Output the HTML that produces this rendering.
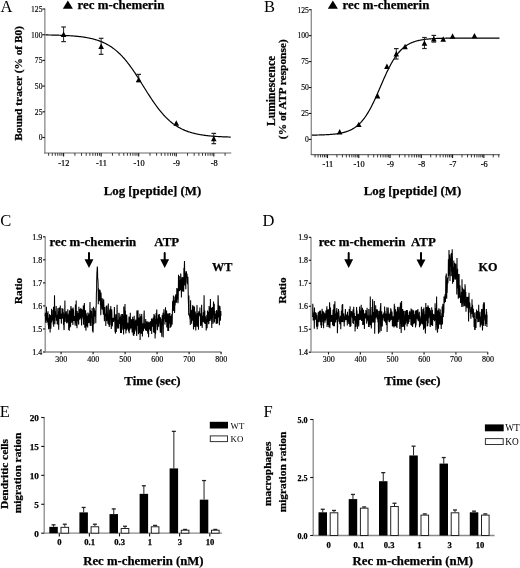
<!DOCTYPE html>
<html><head><meta charset="utf-8"><title>Figure</title>
<style>
html,body{margin:0;padding:0;background:#fff;}
body{width:520px;height:568px;overflow:hidden;}
svg{display:block;font-family:'Liberation Serif', 'Times New Roman', serif;}
</style></head><body>
<svg width="520" height="568" viewBox="0 0 520 568">
<rect width="520" height="568" fill="#fff"/>
<text x="0.60" y="12.20" font-size="16.5" font-weight="normal" text-anchor="start" fill="#000">A</text>
<text x="264.00" y="12.20" font-size="16.5" font-weight="normal" text-anchor="start" fill="#000">B</text>
<text x="0.20" y="226.00" font-size="16.5" font-weight="normal" text-anchor="start" fill="#000">C</text>
<text x="262.60" y="225.80" font-size="16.5" font-weight="normal" text-anchor="start" fill="#000">D</text>
<text x="-0.20" y="416.80" font-size="16.5" font-weight="normal" text-anchor="start" fill="#000">E</text>
<text x="263.40" y="416.80" font-size="16.5" font-weight="normal" text-anchor="start" fill="#000">F</text>
<line x1="44.85" y1="8.60" x2="44.85" y2="153.60" stroke="#8a8a8a" stroke-width="1.3"/>
<line x1="42.45" y1="137.50" x2="44.85" y2="137.50" stroke="#111" stroke-width="1.1"/>
<text x="42.45" y="140.30" font-size="7.6" font-weight="normal" text-anchor="end" fill="#000" stroke="#000" stroke-width="0.15">0</text>
<line x1="42.45" y1="111.80" x2="44.85" y2="111.80" stroke="#111" stroke-width="1.1"/>
<text x="42.45" y="114.60" font-size="7.6" font-weight="normal" text-anchor="end" fill="#000" stroke="#000" stroke-width="0.15">25</text>
<line x1="42.45" y1="86.10" x2="44.85" y2="86.10" stroke="#111" stroke-width="1.1"/>
<text x="42.45" y="88.90" font-size="7.6" font-weight="normal" text-anchor="end" fill="#000" stroke="#000" stroke-width="0.15">50</text>
<line x1="42.45" y1="60.40" x2="44.85" y2="60.40" stroke="#111" stroke-width="1.1"/>
<text x="42.45" y="63.20" font-size="7.6" font-weight="normal" text-anchor="end" fill="#000" stroke="#000" stroke-width="0.15">75</text>
<line x1="42.45" y1="34.70" x2="44.85" y2="34.70" stroke="#111" stroke-width="1.1"/>
<text x="42.45" y="37.50" font-size="7.6" font-weight="normal" text-anchor="end" fill="#000" stroke="#000" stroke-width="0.15">100</text>
<line x1="42.45" y1="9.00" x2="44.85" y2="9.00" stroke="#111" stroke-width="1.1"/>
<text x="42.45" y="11.80" font-size="7.6" font-weight="normal" text-anchor="end" fill="#000" stroke="#000" stroke-width="0.15">125</text>
<line x1="44.20" y1="153.00" x2="231.30" y2="153.00" stroke="#6a6a6a" stroke-width="1.2"/>
<line x1="48.66" y1="153.00" x2="48.66" y2="155.80" stroke="#222" stroke-width="0.9"/>
<line x1="52.30" y1="153.00" x2="52.30" y2="155.80" stroke="#222" stroke-width="0.9"/>
<line x1="55.27" y1="153.00" x2="55.27" y2="155.80" stroke="#222" stroke-width="0.9"/>
<line x1="57.78" y1="153.00" x2="57.78" y2="155.80" stroke="#222" stroke-width="0.9"/>
<line x1="59.96" y1="153.00" x2="59.96" y2="155.80" stroke="#222" stroke-width="0.9"/>
<line x1="61.88" y1="153.00" x2="61.88" y2="155.80" stroke="#222" stroke-width="0.9"/>
<line x1="63.60" y1="153.00" x2="63.60" y2="156.40" stroke="#111" stroke-width="1.1"/>
<line x1="74.90" y1="153.00" x2="74.90" y2="155.80" stroke="#222" stroke-width="0.9"/>
<line x1="81.52" y1="153.00" x2="81.52" y2="155.80" stroke="#222" stroke-width="0.9"/>
<line x1="86.21" y1="153.00" x2="86.21" y2="155.80" stroke="#222" stroke-width="0.9"/>
<line x1="89.85" y1="153.00" x2="89.85" y2="155.80" stroke="#222" stroke-width="0.9"/>
<line x1="92.82" y1="153.00" x2="92.82" y2="155.80" stroke="#222" stroke-width="0.9"/>
<line x1="95.33" y1="153.00" x2="95.33" y2="155.80" stroke="#222" stroke-width="0.9"/>
<line x1="97.51" y1="153.00" x2="97.51" y2="155.80" stroke="#222" stroke-width="0.9"/>
<line x1="99.43" y1="153.00" x2="99.43" y2="155.80" stroke="#222" stroke-width="0.9"/>
<line x1="101.15" y1="153.00" x2="101.15" y2="156.40" stroke="#111" stroke-width="1.1"/>
<line x1="112.45" y1="153.00" x2="112.45" y2="155.80" stroke="#222" stroke-width="0.9"/>
<line x1="119.07" y1="153.00" x2="119.07" y2="155.80" stroke="#222" stroke-width="0.9"/>
<line x1="123.76" y1="153.00" x2="123.76" y2="155.80" stroke="#222" stroke-width="0.9"/>
<line x1="127.40" y1="153.00" x2="127.40" y2="155.80" stroke="#222" stroke-width="0.9"/>
<line x1="130.37" y1="153.00" x2="130.37" y2="155.80" stroke="#222" stroke-width="0.9"/>
<line x1="132.88" y1="153.00" x2="132.88" y2="155.80" stroke="#222" stroke-width="0.9"/>
<line x1="135.06" y1="153.00" x2="135.06" y2="155.80" stroke="#222" stroke-width="0.9"/>
<line x1="136.98" y1="153.00" x2="136.98" y2="155.80" stroke="#222" stroke-width="0.9"/>
<line x1="138.70" y1="153.00" x2="138.70" y2="156.40" stroke="#111" stroke-width="1.1"/>
<line x1="150.00" y1="153.00" x2="150.00" y2="155.80" stroke="#222" stroke-width="0.9"/>
<line x1="156.62" y1="153.00" x2="156.62" y2="155.80" stroke="#222" stroke-width="0.9"/>
<line x1="161.31" y1="153.00" x2="161.31" y2="155.80" stroke="#222" stroke-width="0.9"/>
<line x1="164.95" y1="153.00" x2="164.95" y2="155.80" stroke="#222" stroke-width="0.9"/>
<line x1="167.92" y1="153.00" x2="167.92" y2="155.80" stroke="#222" stroke-width="0.9"/>
<line x1="170.43" y1="153.00" x2="170.43" y2="155.80" stroke="#222" stroke-width="0.9"/>
<line x1="172.61" y1="153.00" x2="172.61" y2="155.80" stroke="#222" stroke-width="0.9"/>
<line x1="174.53" y1="153.00" x2="174.53" y2="155.80" stroke="#222" stroke-width="0.9"/>
<line x1="176.25" y1="153.00" x2="176.25" y2="156.40" stroke="#111" stroke-width="1.1"/>
<line x1="187.55" y1="153.00" x2="187.55" y2="155.80" stroke="#222" stroke-width="0.9"/>
<line x1="194.17" y1="153.00" x2="194.17" y2="155.80" stroke="#222" stroke-width="0.9"/>
<line x1="198.86" y1="153.00" x2="198.86" y2="155.80" stroke="#222" stroke-width="0.9"/>
<line x1="202.50" y1="153.00" x2="202.50" y2="155.80" stroke="#222" stroke-width="0.9"/>
<line x1="205.47" y1="153.00" x2="205.47" y2="155.80" stroke="#222" stroke-width="0.9"/>
<line x1="207.98" y1="153.00" x2="207.98" y2="155.80" stroke="#222" stroke-width="0.9"/>
<line x1="210.16" y1="153.00" x2="210.16" y2="155.80" stroke="#222" stroke-width="0.9"/>
<line x1="212.08" y1="153.00" x2="212.08" y2="155.80" stroke="#222" stroke-width="0.9"/>
<line x1="213.80" y1="153.00" x2="213.80" y2="156.40" stroke="#111" stroke-width="1.1"/>
<line x1="225.10" y1="153.00" x2="225.10" y2="155.80" stroke="#222" stroke-width="0.9"/>
<text x="63.90" y="165.70" font-size="8.3" font-weight="normal" text-anchor="middle" fill="#000" stroke="#000" stroke-width="0.22">-12</text>
<text x="101.45" y="165.70" font-size="8.3" font-weight="normal" text-anchor="middle" fill="#000" stroke="#000" stroke-width="0.22">-11</text>
<text x="139.00" y="165.70" font-size="8.3" font-weight="normal" text-anchor="middle" fill="#000" stroke="#000" stroke-width="0.22">-10</text>
<text x="176.55" y="165.70" font-size="8.3" font-weight="normal" text-anchor="middle" fill="#000" stroke="#000" stroke-width="0.22">-9</text>
<text x="214.10" y="165.70" font-size="8.3" font-weight="normal" text-anchor="middle" fill="#000" stroke="#000" stroke-width="0.22">-8</text>
<polyline points="45.45,34.93 46.08,34.94 46.70,34.94 47.33,34.95 47.95,34.96 48.58,34.98 49.21,34.99 49.83,35.00 50.46,35.01 51.08,35.02 51.71,35.03 52.33,35.05 52.96,35.06 53.59,35.08 54.21,35.09 54.84,35.11 55.46,35.12 56.09,35.14 56.72,35.16 57.34,35.18 57.97,35.19 58.59,35.21 59.22,35.23 59.85,35.26 60.47,35.28 61.10,35.30 61.72,35.32 62.35,35.35 62.97,35.37 63.60,35.40 64.23,35.43 64.85,35.46 65.48,35.49 66.10,35.52 66.73,35.55 67.35,35.58 67.98,35.62 68.61,35.66 69.23,35.69 69.86,35.73 70.48,35.77 71.11,35.82 71.74,35.86 72.36,35.91 72.99,35.95 73.61,36.00 74.24,36.05 74.87,36.11 75.49,36.16 76.12,36.22 76.74,36.28 77.37,36.34 77.99,36.41 78.62,36.47 79.25,36.54 79.87,36.61 80.50,36.69 81.12,36.77 81.75,36.85 82.38,36.93 83.00,37.02 83.63,37.11 84.25,37.20 84.88,37.30 85.50,37.40 86.13,37.51 86.76,37.61 87.38,37.73 88.01,37.84 88.63,37.97 89.26,38.09 89.88,38.22 90.51,38.36 91.14,38.50 91.76,38.64 92.39,38.79 93.01,38.95 93.64,39.11 94.27,39.28 94.89,39.46 95.52,39.64 96.14,39.82 96.77,40.02 97.40,40.22 98.02,40.43 98.65,40.64 99.27,40.86 99.90,41.09 100.52,41.33 101.15,41.58 101.78,41.84 102.40,42.10 103.03,42.37 103.65,42.65 104.28,42.95 104.90,43.25 105.53,43.56 106.16,43.88 106.78,44.21 107.41,44.56 108.03,44.91 108.66,45.28 109.29,45.65 109.91,46.04 110.54,46.44 111.16,46.85 111.79,47.28 112.42,47.72 113.04,48.17 113.67,48.63 114.29,49.11 114.92,49.60 115.54,50.11 116.17,50.63 116.80,51.16 117.42,51.71 118.05,52.27 118.67,52.85 119.30,53.44 119.92,54.05 120.55,54.67 121.18,55.31 121.80,55.96 122.43,56.62 123.05,57.31 123.68,58.00 124.31,58.72 124.93,59.44 125.56,60.18 126.18,60.94 126.81,61.71 127.43,62.50 128.06,63.30 128.69,64.11 129.31,64.94 129.94,65.78 130.56,66.64 131.19,67.50 131.82,68.38 132.44,69.28 133.07,70.18 133.69,71.09 134.32,72.02 134.95,72.95 135.57,73.90 136.20,74.85 136.82,75.81 137.45,76.78 138.07,77.75 138.70,78.73 139.33,79.72 139.95,80.71 140.58,81.71 141.20,82.71 141.83,83.71 142.45,84.71 143.08,85.72 143.71,86.72 144.33,87.73 144.96,88.73 145.58,89.73 146.21,90.73 146.84,91.73 147.46,92.72 148.09,93.70 148.71,94.68 149.34,95.66 149.97,96.62 150.59,97.58 151.22,98.53 151.84,99.47 152.47,100.41 153.09,101.33 153.72,102.24 154.35,103.14 154.97,104.03 155.60,104.90 156.22,105.77 156.85,106.62 157.47,107.46 158.10,108.28 158.73,109.09 159.35,109.89 159.98,110.67 160.60,111.44 161.23,112.19 161.86,112.93 162.48,113.66 163.11,114.37 163.73,115.06 164.36,115.74 164.98,116.40 165.61,117.05 166.24,117.68 166.86,118.30 167.49,118.90 168.11,119.49 168.74,120.07 169.37,120.62 169.99,121.17 170.62,121.70 171.24,122.21 171.87,122.72 172.50,123.20 173.12,123.68 173.75,124.14 174.37,124.59 175.00,125.02 175.62,125.45 176.25,125.86 176.88,126.25 177.50,126.64 178.13,127.01 178.75,127.38 179.38,127.73 180.00,128.07 180.63,128.40 181.26,128.72 181.88,129.03 182.51,129.32 183.13,129.61 183.76,129.89 184.39,130.17 185.01,130.43 185.64,130.68 186.26,130.93 186.89,131.16 187.52,131.39 188.14,131.61 188.77,131.82 189.39,132.03 190.02,132.23 190.64,132.42 191.27,132.61 191.90,132.79 192.52,132.96 193.15,133.13 193.77,133.29 194.40,133.44 195.02,133.59 195.65,133.74 196.28,133.88 196.90,134.01 197.53,134.14 198.15,134.26 198.78,134.38 199.41,134.50 200.03,134.61 200.66,134.72 201.28,134.82 201.91,134.92 202.53,135.02 203.16,135.11 203.79,135.20 204.41,135.29 205.04,135.37 205.66,135.45 206.29,135.53 206.92,135.60 207.54,135.67 208.17,135.74 208.79,135.81 209.42,135.87 210.04,135.93 210.67,135.99 211.30,136.05 211.92,136.11 212.55,136.16 213.17,136.21 213.80,136.26 214.43,136.31 215.05,136.35 215.68,136.39 216.30,136.44 216.93,136.48 217.55,136.52 218.18,136.55 218.81,136.59 219.43,136.62 220.06,136.66 220.68,136.69 221.31,136.72 221.94,136.75 222.56,136.78 223.19,136.81 223.81,136.83 224.44,136.86 225.06,136.88 225.69,136.91 226.32,136.93 226.94,136.95 227.57,136.97 228.19,136.99 228.82,137.01 229.45,137.03 230.07,137.05 230.70,137.06" fill="none" stroke="#000" stroke-width="1.2"/>
<line x1="63.60" y1="26.99" x2="63.60" y2="41.59" stroke="#222" stroke-width="1.0"/>
<line x1="61.30" y1="26.99" x2="65.90" y2="26.99" stroke="#222" stroke-width="1.2"/>
<line x1="61.30" y1="41.59" x2="65.90" y2="41.59" stroke="#222" stroke-width="1.2"/>
<polygon points="60.80,36.99 66.40,36.99 63.60,31.59" fill="#000"/>
<line x1="101.15" y1="38.30" x2="101.15" y2="54.33" stroke="#222" stroke-width="1.0"/>
<line x1="98.85" y1="38.30" x2="103.45" y2="38.30" stroke="#222" stroke-width="1.2"/>
<line x1="98.85" y1="54.33" x2="103.45" y2="54.33" stroke="#222" stroke-width="1.2"/>
<polygon points="98.35,49.02 103.95,49.02 101.15,43.62" fill="#000"/>
<line x1="138.70" y1="74.38" x2="138.70" y2="81.58" stroke="#222" stroke-width="1.0"/>
<line x1="136.40" y1="74.38" x2="141.00" y2="74.38" stroke="#222" stroke-width="1.2"/>
<line x1="136.40" y1="81.58" x2="141.00" y2="81.58" stroke="#222" stroke-width="1.2"/>
<polygon points="135.90,82.22 141.50,82.22 138.70,76.82" fill="#000"/>
<polygon points="173.45,125.71 179.05,125.71 176.25,120.31" fill="#000"/>
<line x1="213.80" y1="133.39" x2="213.80" y2="143.67" stroke="#222" stroke-width="1.0"/>
<line x1="211.50" y1="133.39" x2="216.10" y2="133.39" stroke="#222" stroke-width="1.2"/>
<line x1="211.50" y1="143.67" x2="216.10" y2="143.67" stroke="#222" stroke-width="1.2"/>
<polygon points="211.00,141.23 216.60,141.23 213.80,135.83" fill="#000"/>
<polygon points="62.8,8.8 72.9,8.8 67.85,0.6" fill="#000"/>
<text x="77.60" y="8.90" font-size="12.9" font-weight="bold" text-anchor="start" fill="#000" stroke="#000" stroke-width="0.25">rec m-chemerin</text>
<text x="22.00" y="83.40" font-size="11.4" font-weight="bold" text-anchor="middle" fill="#000" transform="rotate(-90 22.00 83.40)" stroke="#000" stroke-width="0.25">Bound tracer (% of B0)</text>
<text x="152.50" y="194.60" font-size="12.8" font-weight="bold" text-anchor="middle" fill="#000" stroke="#000" stroke-width="0.25">Log [peptide] (M)</text>
<line x1="311.30" y1="9.30" x2="311.30" y2="155.00" stroke="#8a8a8a" stroke-width="1.3"/>
<line x1="308.90" y1="139.40" x2="311.30" y2="139.40" stroke="#111" stroke-width="1.1"/>
<text x="308.90" y="142.20" font-size="7.6" font-weight="normal" text-anchor="end" fill="#000" stroke="#000" stroke-width="0.15">0</text>
<line x1="308.90" y1="113.46" x2="311.30" y2="113.46" stroke="#111" stroke-width="1.1"/>
<text x="308.90" y="116.26" font-size="7.6" font-weight="normal" text-anchor="end" fill="#000" stroke="#000" stroke-width="0.15">25</text>
<line x1="308.90" y1="87.52" x2="311.30" y2="87.52" stroke="#111" stroke-width="1.1"/>
<text x="308.90" y="90.32" font-size="7.6" font-weight="normal" text-anchor="end" fill="#000" stroke="#000" stroke-width="0.15">50</text>
<line x1="308.90" y1="61.58" x2="311.30" y2="61.58" stroke="#111" stroke-width="1.1"/>
<text x="308.90" y="64.38" font-size="7.6" font-weight="normal" text-anchor="end" fill="#000" stroke="#000" stroke-width="0.15">75</text>
<line x1="308.90" y1="35.64" x2="311.30" y2="35.64" stroke="#111" stroke-width="1.1"/>
<text x="308.90" y="38.44" font-size="7.6" font-weight="normal" text-anchor="end" fill="#000" stroke="#000" stroke-width="0.15">100</text>
<line x1="308.90" y1="9.70" x2="311.30" y2="9.70" stroke="#111" stroke-width="1.1"/>
<text x="308.90" y="12.50" font-size="7.6" font-weight="normal" text-anchor="end" fill="#000" stroke="#000" stroke-width="0.15">125</text>
<line x1="310.80" y1="154.60" x2="499.80" y2="154.60" stroke="#6a6a6a" stroke-width="1.2"/>
<line x1="315.06" y1="154.60" x2="315.06" y2="157.40" stroke="#222" stroke-width="0.9"/>
<line x1="318.09" y1="154.60" x2="318.09" y2="157.40" stroke="#222" stroke-width="0.9"/>
<line x1="320.56" y1="154.60" x2="320.56" y2="157.40" stroke="#222" stroke-width="0.9"/>
<line x1="322.66" y1="154.60" x2="322.66" y2="157.40" stroke="#222" stroke-width="0.9"/>
<line x1="324.47" y1="154.60" x2="324.47" y2="157.40" stroke="#222" stroke-width="0.9"/>
<line x1="326.07" y1="154.60" x2="326.07" y2="157.40" stroke="#222" stroke-width="0.9"/>
<line x1="327.50" y1="154.60" x2="327.50" y2="158.00" stroke="#111" stroke-width="1.1"/>
<line x1="336.91" y1="154.60" x2="336.91" y2="157.40" stroke="#222" stroke-width="0.9"/>
<line x1="342.42" y1="154.60" x2="342.42" y2="157.40" stroke="#222" stroke-width="0.9"/>
<line x1="346.33" y1="154.60" x2="346.33" y2="157.40" stroke="#222" stroke-width="0.9"/>
<line x1="349.36" y1="154.60" x2="349.36" y2="157.40" stroke="#222" stroke-width="0.9"/>
<line x1="351.83" y1="154.60" x2="351.83" y2="157.40" stroke="#222" stroke-width="0.9"/>
<line x1="353.93" y1="154.60" x2="353.93" y2="157.40" stroke="#222" stroke-width="0.9"/>
<line x1="355.74" y1="154.60" x2="355.74" y2="157.40" stroke="#222" stroke-width="0.9"/>
<line x1="357.34" y1="154.60" x2="357.34" y2="157.40" stroke="#222" stroke-width="0.9"/>
<line x1="358.77" y1="154.60" x2="358.77" y2="158.00" stroke="#111" stroke-width="1.1"/>
<line x1="368.18" y1="154.60" x2="368.18" y2="157.40" stroke="#222" stroke-width="0.9"/>
<line x1="373.69" y1="154.60" x2="373.69" y2="157.40" stroke="#222" stroke-width="0.9"/>
<line x1="377.60" y1="154.60" x2="377.60" y2="157.40" stroke="#222" stroke-width="0.9"/>
<line x1="380.63" y1="154.60" x2="380.63" y2="157.40" stroke="#222" stroke-width="0.9"/>
<line x1="383.10" y1="154.60" x2="383.10" y2="157.40" stroke="#222" stroke-width="0.9"/>
<line x1="385.20" y1="154.60" x2="385.20" y2="157.40" stroke="#222" stroke-width="0.9"/>
<line x1="387.01" y1="154.60" x2="387.01" y2="157.40" stroke="#222" stroke-width="0.9"/>
<line x1="388.61" y1="154.60" x2="388.61" y2="157.40" stroke="#222" stroke-width="0.9"/>
<line x1="390.04" y1="154.60" x2="390.04" y2="158.00" stroke="#111" stroke-width="1.1"/>
<line x1="399.45" y1="154.60" x2="399.45" y2="157.40" stroke="#222" stroke-width="0.9"/>
<line x1="404.96" y1="154.60" x2="404.96" y2="157.40" stroke="#222" stroke-width="0.9"/>
<line x1="408.87" y1="154.60" x2="408.87" y2="157.40" stroke="#222" stroke-width="0.9"/>
<line x1="411.90" y1="154.60" x2="411.90" y2="157.40" stroke="#222" stroke-width="0.9"/>
<line x1="414.37" y1="154.60" x2="414.37" y2="157.40" stroke="#222" stroke-width="0.9"/>
<line x1="416.47" y1="154.60" x2="416.47" y2="157.40" stroke="#222" stroke-width="0.9"/>
<line x1="418.28" y1="154.60" x2="418.28" y2="157.40" stroke="#222" stroke-width="0.9"/>
<line x1="419.88" y1="154.60" x2="419.88" y2="157.40" stroke="#222" stroke-width="0.9"/>
<line x1="421.31" y1="154.60" x2="421.31" y2="158.00" stroke="#111" stroke-width="1.1"/>
<line x1="430.72" y1="154.60" x2="430.72" y2="157.40" stroke="#222" stroke-width="0.9"/>
<line x1="436.23" y1="154.60" x2="436.23" y2="157.40" stroke="#222" stroke-width="0.9"/>
<line x1="440.14" y1="154.60" x2="440.14" y2="157.40" stroke="#222" stroke-width="0.9"/>
<line x1="443.17" y1="154.60" x2="443.17" y2="157.40" stroke="#222" stroke-width="0.9"/>
<line x1="445.64" y1="154.60" x2="445.64" y2="157.40" stroke="#222" stroke-width="0.9"/>
<line x1="447.74" y1="154.60" x2="447.74" y2="157.40" stroke="#222" stroke-width="0.9"/>
<line x1="449.55" y1="154.60" x2="449.55" y2="157.40" stroke="#222" stroke-width="0.9"/>
<line x1="451.15" y1="154.60" x2="451.15" y2="157.40" stroke="#222" stroke-width="0.9"/>
<line x1="452.58" y1="154.60" x2="452.58" y2="158.00" stroke="#111" stroke-width="1.1"/>
<line x1="461.99" y1="154.60" x2="461.99" y2="157.40" stroke="#222" stroke-width="0.9"/>
<line x1="467.50" y1="154.60" x2="467.50" y2="157.40" stroke="#222" stroke-width="0.9"/>
<line x1="471.41" y1="154.60" x2="471.41" y2="157.40" stroke="#222" stroke-width="0.9"/>
<line x1="474.44" y1="154.60" x2="474.44" y2="157.40" stroke="#222" stroke-width="0.9"/>
<line x1="476.91" y1="154.60" x2="476.91" y2="157.40" stroke="#222" stroke-width="0.9"/>
<line x1="479.01" y1="154.60" x2="479.01" y2="157.40" stroke="#222" stroke-width="0.9"/>
<line x1="480.82" y1="154.60" x2="480.82" y2="157.40" stroke="#222" stroke-width="0.9"/>
<line x1="482.42" y1="154.60" x2="482.42" y2="157.40" stroke="#222" stroke-width="0.9"/>
<line x1="483.85" y1="154.60" x2="483.85" y2="158.00" stroke="#111" stroke-width="1.1"/>
<line x1="493.26" y1="154.60" x2="493.26" y2="157.40" stroke="#222" stroke-width="0.9"/>
<line x1="498.77" y1="154.60" x2="498.77" y2="157.40" stroke="#222" stroke-width="0.9"/>
<text x="327.80" y="166.90" font-size="8.3" font-weight="normal" text-anchor="middle" fill="#000" stroke="#000" stroke-width="0.22">-11</text>
<text x="359.07" y="166.90" font-size="8.3" font-weight="normal" text-anchor="middle" fill="#000" stroke="#000" stroke-width="0.22">-10</text>
<text x="390.34" y="166.90" font-size="8.3" font-weight="normal" text-anchor="middle" fill="#000" stroke="#000" stroke-width="0.22">-9</text>
<text x="421.61" y="166.90" font-size="8.3" font-weight="normal" text-anchor="middle" fill="#000" stroke="#000" stroke-width="0.22">-8</text>
<text x="452.88" y="166.90" font-size="8.3" font-weight="normal" text-anchor="middle" fill="#000" stroke="#000" stroke-width="0.22">-7</text>
<text x="484.15" y="166.90" font-size="8.3" font-weight="normal" text-anchor="middle" fill="#000" stroke="#000" stroke-width="0.22">-6</text>
<polyline points="311.87,135.11 312.33,135.11 312.80,135.10 313.27,135.09 313.74,135.09 314.21,135.08 314.68,135.07 315.15,135.06 315.62,135.05 316.09,135.05 316.56,135.04 317.02,135.03 317.49,135.02 317.96,135.01 318.43,134.99 318.90,134.98 319.37,134.97 319.84,134.96 320.31,134.94 320.78,134.93 321.25,134.92 321.72,134.90 322.18,134.88 322.65,134.87 323.12,134.85 323.59,134.83 324.06,134.81 324.53,134.79 325.00,134.77 325.47,134.75 325.94,134.73 326.41,134.70 326.87,134.68 327.34,134.65 327.81,134.62 328.28,134.60 328.75,134.57 329.22,134.54 329.69,134.50 330.16,134.47 330.63,134.43 331.10,134.40 331.57,134.36 332.03,134.32 332.50,134.27 332.97,134.23 333.44,134.18 333.91,134.14 334.38,134.08 334.85,134.03 335.32,133.98 335.79,133.92 336.26,133.86 336.72,133.80 337.19,133.73 337.66,133.66 338.13,133.59 338.60,133.51 339.07,133.44 339.54,133.35 340.01,133.27 340.48,133.18 340.95,133.09 341.42,132.99 341.88,132.89 342.35,132.78 342.82,132.67 343.29,132.56 343.76,132.44 344.23,132.31 344.70,132.18 345.17,132.05 345.64,131.90 346.11,131.76 346.57,131.60 347.04,131.44 347.51,131.27 347.98,131.10 348.45,130.92 348.92,130.73 349.39,130.53 349.86,130.32 350.33,130.11 350.80,129.89 351.27,129.65 351.73,129.41 352.20,129.16 352.67,128.90 353.14,128.63 353.61,128.35 354.08,128.05 354.55,127.75 355.02,127.43 355.49,127.10 355.96,126.76 356.42,126.41 356.89,126.04 357.36,125.66 357.83,125.26 358.30,124.85 358.77,124.43 359.24,123.99 359.71,123.53 360.18,123.06 360.65,122.58 361.12,122.07 361.58,121.55 362.05,121.02 362.52,120.46 362.99,119.89 363.46,119.30 363.93,118.69 364.40,118.07 364.87,117.42 365.34,116.76 365.81,116.08 366.27,115.38 366.74,114.66 367.21,113.92 367.68,113.16 368.15,112.39 368.62,111.59 369.09,110.78 369.56,109.95 370.03,109.10 370.50,108.23 370.97,107.35 371.43,106.44 371.90,105.53 372.37,104.59 372.84,103.64 373.31,102.68 373.78,101.70 374.25,100.70 374.72,99.70 375.19,98.68 375.66,97.65 376.12,96.61 376.59,95.56 377.06,94.50 377.53,93.43 378.00,92.36 378.47,91.28 378.94,90.20 379.41,89.11 379.88,88.02 380.35,86.93 380.82,85.84 381.28,84.75 381.75,83.66 382.22,82.57 382.69,81.49 383.16,80.42 383.63,79.35 384.10,78.28 384.57,77.23 385.04,76.18 385.51,75.15 385.97,74.12 386.44,73.11 386.91,72.11 387.38,71.12 387.85,70.15 388.32,69.19 388.79,68.25 389.26,67.32 389.73,66.41 390.20,65.51 390.67,64.64 391.13,63.78 391.60,62.94 392.07,62.12 392.54,61.31 393.01,60.53 393.48,59.76 393.95,59.01 394.42,58.28 394.89,57.57 395.36,56.88 395.82,56.21 396.29,55.55 396.76,54.92 397.23,54.30 397.70,53.70 398.17,53.12 398.64,52.55 399.11,52.01 399.58,51.48 400.05,50.97 400.52,50.47 400.98,49.99 401.45,49.53 401.92,49.08 402.39,48.65 402.86,48.23 403.33,47.83 403.80,47.44 404.27,47.06 404.74,46.70 405.21,46.36 405.68,46.02 406.14,45.70 406.61,45.38 407.08,45.09 407.55,44.80 408.02,44.52 408.49,44.25 408.96,44.00 409.43,43.75 409.90,43.51 410.37,43.28 410.83,43.07 411.30,42.86 411.77,42.65 412.24,42.46 412.71,42.27 413.18,42.09 413.65,41.92 414.12,41.76 414.59,41.60 415.06,41.45 415.53,41.30 415.99,41.16 416.46,41.03 416.93,40.90 417.40,40.78 417.87,40.66 418.34,40.55 418.81,40.44 419.28,40.34 419.75,40.24 420.22,40.14 420.68,40.05 421.15,39.97 421.62,39.88 422.09,39.80 422.56,39.73 423.03,39.65 423.50,39.58 423.97,39.52 424.44,39.45 424.91,39.39 425.38,39.33 425.84,39.27 426.31,39.22 426.78,39.17 427.25,39.12 427.72,39.07 428.19,39.03 428.66,38.98 429.13,38.94 429.60,38.90 430.07,38.86 430.53,38.83 431.00,38.79 431.47,38.76 431.94,38.73 432.41,38.70 432.88,38.67 433.35,38.64 433.82,38.61 434.29,38.59 434.76,38.56 435.23,38.54 435.69,38.52 436.16,38.49 436.63,38.47 437.10,38.45 437.57,38.44 438.04,38.42 438.51,38.40 438.98,38.38 439.45,38.37 439.92,38.35 440.38,38.34 440.85,38.33 441.32,38.31 441.79,38.30 442.26,38.29 442.73,38.28 443.20,38.27 443.67,38.26 444.14,38.25 444.61,38.24 445.08,38.23 445.54,38.22 446.01,38.21 446.48,38.20 446.95,38.19 447.42,38.19 447.89,38.18 448.36,38.17 448.83,38.17 449.30,38.16 449.77,38.15 450.23,38.15 450.70,38.14 451.17,38.14 451.64,38.13 452.11,38.13 452.58,38.12 453.05,38.12 453.52,38.12 453.99,38.11 454.46,38.11 454.93,38.10 455.39,38.10 455.86,38.10 456.33,38.09 456.80,38.09 457.27,38.09 457.74,38.09 458.21,38.08 458.68,38.08 459.15,38.08 459.62,38.08 460.08,38.07 460.55,38.07 461.02,38.07 461.49,38.07 461.96,38.07 462.43,38.06 462.90,38.06 463.37,38.06 463.84,38.06 464.31,38.06 464.78,38.06 465.24,38.06 465.71,38.05 466.18,38.05 466.65,38.05 467.12,38.05 467.59,38.05 468.06,38.05 468.53,38.05 469.00,38.05 469.47,38.05 469.93,38.05 470.40,38.04 470.87,38.04 471.34,38.04 471.81,38.04 472.28,38.04 472.75,38.04 473.22,38.04 473.69,38.04 474.16,38.04 474.63,38.04 475.09,38.04 475.56,38.04 476.03,38.04 476.50,38.04 476.97,38.04 477.44,38.04 477.91,38.04 478.38,38.03 478.85,38.03 479.32,38.03 479.78,38.03 480.25,38.03 480.72,38.03 481.19,38.03 481.66,38.03 482.13,38.03 482.60,38.03 483.07,38.03 483.54,38.03 484.01,38.03 484.48,38.03 484.94,38.03 485.41,38.03 485.88,38.03 486.35,38.03 486.82,38.03 487.29,38.03 487.76,38.03 488.23,38.03 488.70,38.03 489.17,38.03 489.63,38.03 490.10,38.03 490.57,38.03 491.04,38.03 491.51,38.03 491.98,38.03 492.45,38.03 492.92,38.03 493.39,38.03 493.86,38.03 494.33,38.03 494.79,38.03 495.26,38.03 495.73,38.03 496.20,38.03 496.67,38.03 497.14,38.03 497.61,38.03 498.08,38.03 498.55,38.03 499.02,38.03 499.49,38.03" fill="none" stroke="#000" stroke-width="1.2"/>
<polygon points="336.90,134.42 342.50,134.42 339.70,129.02" fill="#000"/>
<polygon points="355.97,127.05 361.57,127.05 358.77,121.65" fill="#000"/>
<polygon points="374.73,98.52 380.33,98.52 377.53,93.12" fill="#000"/>
<polygon points="384.11,68.95 389.71,68.95 386.91,63.55" fill="#000"/>
<line x1="396.29" y1="48.61" x2="396.29" y2="58.99" stroke="#222" stroke-width="1.0"/>
<line x1="393.99" y1="48.61" x2="398.59" y2="48.61" stroke="#222" stroke-width="1.2"/>
<line x1="393.99" y1="58.99" x2="398.59" y2="58.99" stroke="#222" stroke-width="1.2"/>
<polygon points="393.49,56.50 399.09,56.50 396.29,51.10" fill="#000"/>
<polygon points="402.25,49.13 407.85,49.13 405.05,43.73" fill="#000"/>
<line x1="424.44" y1="37.51" x2="424.44" y2="48.51" stroke="#222" stroke-width="1.0"/>
<line x1="422.14" y1="37.51" x2="426.74" y2="37.51" stroke="#222" stroke-width="1.2"/>
<line x1="422.14" y1="48.51" x2="426.74" y2="48.51" stroke="#222" stroke-width="1.2"/>
<polygon points="421.64,45.71 427.24,45.71 424.44,40.31" fill="#000"/>
<line x1="433.82" y1="35.43" x2="433.82" y2="42.07" stroke="#222" stroke-width="1.0"/>
<line x1="431.52" y1="35.43" x2="436.12" y2="35.43" stroke="#222" stroke-width="1.2"/>
<line x1="431.52" y1="42.07" x2="436.12" y2="42.07" stroke="#222" stroke-width="1.2"/>
<polygon points="431.02,41.45 436.62,41.45 433.82,36.05" fill="#000"/>
<polygon points="440.40,41.76 446.00,41.76 443.20,36.36" fill="#000"/>
<polygon points="449.78,38.76 455.38,38.76 452.58,33.36" fill="#000"/>
<polygon points="471.67,38.34 477.27,38.34 474.47,32.94" fill="#000"/>
<polygon points="327.8,8.8 337.9,8.8 332.85,0.6" fill="#000"/>
<text x="342.60" y="8.90" font-size="12.9" font-weight="bold" text-anchor="start" fill="#000" stroke="#000" stroke-width="0.25">rec m-chemerin</text>
<text x="274.80" y="90.90" font-size="11.6" font-weight="bold" text-anchor="middle" fill="#000" transform="rotate(-90 274.80 90.90)" stroke="#000" stroke-width="0.25">Luminescence</text>
<text x="286.30" y="89.20" font-size="11.4" font-weight="bold" text-anchor="middle" fill="#000" transform="rotate(-90 286.30 89.20)" stroke="#000" stroke-width="0.25">(% of ATP response)</text>
<text x="412.50" y="194.60" font-size="12.8" font-weight="bold" text-anchor="middle" fill="#000" stroke="#000" stroke-width="0.25">Log [peptide] (M)</text>
<line x1="45.20" y1="236.40" x2="45.20" y2="352.60" stroke="#8a8a8a" stroke-width="1.3"/>
<line x1="43.00" y1="236.80" x2="45.20" y2="236.80" stroke="#111" stroke-width="1.1"/>
<text x="42.20" y="239.80" font-size="7.9" font-weight="normal" text-anchor="end" fill="#000" stroke="#000" stroke-width="0.2">1.9</text>
<line x1="43.00" y1="259.84" x2="45.20" y2="259.84" stroke="#111" stroke-width="1.1"/>
<text x="42.20" y="262.84" font-size="7.9" font-weight="normal" text-anchor="end" fill="#000" stroke="#000" stroke-width="0.2">1.8</text>
<line x1="43.00" y1="282.88" x2="45.20" y2="282.88" stroke="#111" stroke-width="1.1"/>
<text x="42.20" y="285.88" font-size="7.9" font-weight="normal" text-anchor="end" fill="#000" stroke="#000" stroke-width="0.2">1.7</text>
<line x1="43.00" y1="305.92" x2="45.20" y2="305.92" stroke="#111" stroke-width="1.1"/>
<text x="42.20" y="308.92" font-size="7.9" font-weight="normal" text-anchor="end" fill="#000" stroke="#000" stroke-width="0.2">1.6</text>
<line x1="43.00" y1="328.96" x2="45.20" y2="328.96" stroke="#111" stroke-width="1.1"/>
<text x="42.20" y="331.96" font-size="7.9" font-weight="normal" text-anchor="end" fill="#000" stroke="#000" stroke-width="0.2">1.5</text>
<line x1="43.00" y1="352.00" x2="45.20" y2="352.00" stroke="#111" stroke-width="1.1"/>
<text x="42.20" y="355.00" font-size="7.9" font-weight="normal" text-anchor="end" fill="#000" stroke="#000" stroke-width="0.2">1.4</text>
<line x1="44.60" y1="352.00" x2="221.40" y2="352.00" stroke="#8a8a8a" stroke-width="1.3"/>
<line x1="61.10" y1="352.00" x2="61.10" y2="354.20" stroke="#111" stroke-width="1.1"/>
<text x="61.30" y="361.70" font-size="8.0" font-weight="normal" text-anchor="middle" fill="#000" stroke="#000" stroke-width="0.15">300</text>
<line x1="93.10" y1="352.00" x2="93.10" y2="354.20" stroke="#111" stroke-width="1.1"/>
<text x="93.30" y="361.70" font-size="8.0" font-weight="normal" text-anchor="middle" fill="#000" stroke="#000" stroke-width="0.15">400</text>
<line x1="125.10" y1="352.00" x2="125.10" y2="354.20" stroke="#111" stroke-width="1.1"/>
<text x="125.30" y="361.70" font-size="8.0" font-weight="normal" text-anchor="middle" fill="#000" stroke="#000" stroke-width="0.15">500</text>
<line x1="157.10" y1="352.00" x2="157.10" y2="354.20" stroke="#111" stroke-width="1.1"/>
<text x="157.30" y="361.70" font-size="8.0" font-weight="normal" text-anchor="middle" fill="#000" stroke="#000" stroke-width="0.15">600</text>
<line x1="189.10" y1="352.00" x2="189.10" y2="354.20" stroke="#111" stroke-width="1.1"/>
<text x="189.30" y="361.70" font-size="8.0" font-weight="normal" text-anchor="middle" fill="#000" stroke="#000" stroke-width="0.15">700</text>
<line x1="221.10" y1="352.00" x2="221.10" y2="354.20" stroke="#111" stroke-width="1.1"/>
<text x="221.30" y="361.70" font-size="8.0" font-weight="normal" text-anchor="middle" fill="#000" stroke="#000" stroke-width="0.15">800</text>
<polyline points="45.1,316.0 45.3,312.8 45.5,318.0 45.7,322.2 45.9,319.8 46.1,322.9 46.3,315.6 46.4,306.8 46.6,319.5 46.8,320.3 47.0,312.7 47.2,313.6 47.4,315.3 47.6,322.5 47.8,316.3 48.0,311.3 48.2,325.3 48.4,319.2 48.6,329.2 48.7,326.8 48.9,328.8 49.1,317.7 49.3,324.8 49.5,314.2 49.7,315.0 49.9,317.6 50.1,332.6 50.3,319.8 50.5,316.5 50.7,315.3 50.9,328.7 51.1,319.4 51.2,322.8 51.4,321.6 51.6,308.7 51.8,321.6 52.0,316.3 52.2,309.9 52.4,320.1 52.6,316.8 52.8,315.3 53.0,315.6 53.2,324.5 53.4,315.5 53.5,306.7 53.7,326.8 53.9,310.1 54.1,315.2 54.3,320.5 54.5,295.3 54.7,310.8 54.9,324.3 55.1,315.5 55.3,312.1 55.5,317.4 55.7,311.3 55.9,316.5 56.0,311.4 56.2,306.1 56.4,320.7 56.6,314.7 56.8,319.3 57.0,315.2 57.2,324.3 57.4,320.1 57.6,317.4 57.8,309.8 58.0,308.1 58.2,325.2 58.3,321.6 58.5,311.6 58.7,329.8 58.9,319.3 59.1,316.7 59.3,307.4 59.5,311.3 59.7,318.3 59.9,318.6 60.1,318.1 60.3,305.5 60.5,319.0 60.7,318.2 60.8,313.6 61.0,316.9 61.2,317.4 61.4,323.8 61.6,316.1 61.8,319.1 62.0,308.0 62.2,311.5 62.4,316.2 62.6,311.4 62.8,318.4 63.0,308.8 63.1,316.1 63.3,312.0 63.5,325.0 63.7,313.7 63.9,327.7 64.1,330.1 64.3,318.2 64.5,322.3 64.7,314.2 64.9,300.5 65.1,321.8 65.3,321.2 65.5,314.6 65.6,312.6 65.8,317.3 66.0,317.5 66.2,311.2 66.4,312.5 66.6,323.2 66.8,316.6 67.0,315.8 67.2,323.3 67.4,314.3 67.6,322.0 67.8,309.3 67.9,314.7 68.1,315.4 68.3,320.1 68.5,316.9 68.7,329.9 68.9,323.9 69.1,313.5 69.3,330.8 69.5,310.2 69.7,328.1 69.9,310.8 70.1,321.9 70.3,310.7 70.4,315.2 70.6,326.7 70.8,307.4 71.0,306.1 71.2,316.5 71.4,318.0 71.6,317.2 71.8,322.8 72.0,308.5 72.2,319.8 72.4,316.4 72.6,321.5 72.7,320.4 72.9,324.9 73.1,307.4 73.3,317.3 73.5,309.4 73.7,316.0 73.9,320.9 74.1,318.3 74.3,320.7 74.5,316.0 74.7,318.7 74.9,318.1 75.1,325.6 75.2,321.6 75.4,304.6 75.6,320.7 75.8,323.3 76.0,313.7 76.2,300.5 76.4,326.1 76.6,317.5 76.8,320.4 77.0,328.2 77.2,311.0 77.4,316.2 77.5,315.6 77.7,321.3 77.9,312.9 78.1,319.8 78.3,317.0 78.5,323.7 78.7,324.5 78.9,306.8 79.1,319.6 79.3,314.0 79.5,316.3 79.7,319.1 79.9,319.6 80.0,309.1 80.2,318.1 80.4,317.1 80.6,315.9 80.8,307.9 81.0,311.4 81.2,313.4 81.4,320.0 81.6,325.6 81.8,309.5 82.0,309.4 82.2,317.2 82.3,312.3 82.5,310.7 82.7,310.3 82.9,309.7 83.1,319.2 83.3,305.6 83.5,324.7 83.7,306.5 83.9,312.6 84.1,310.0 84.3,303.1 84.5,305.8 84.7,324.0 84.8,327.7 85.0,310.4 85.2,323.1 85.4,316.1 85.6,310.3 85.8,327.4 86.0,330.6 86.2,313.2 86.4,315.8 86.6,317.8 86.8,315.8 87.0,322.0 87.1,326.5 87.3,317.2 87.5,322.8 87.7,327.4 87.9,312.6 88.1,316.5 88.3,313.2 88.5,322.9 88.7,320.6 88.9,323.0 89.1,322.2 89.3,314.7 89.5,321.5 89.6,313.6 89.8,313.7 90.0,302.1 90.2,325.7 90.4,309.9 90.6,316.7 90.8,316.2 91.0,326.1 91.2,319.2 91.4,310.9 91.6,316.6 91.8,315.5 91.9,318.1 92.1,308.1 92.3,316.2 92.5,331.3 92.7,320.8 92.9,329.7 93.1,332.6 93.3,319.7 93.5,306.8 93.7,315.7 93.9,324.2 94.1,322.6 94.3,308.2 94.4,315.0 94.6,315.7 94.8,316.4 95.0,315.8 95.2,310.5 95.4,312.2 95.6,314.6 95.8,323.3 96.0,306.4 96.2,307.2 96.4,292.5 96.6,290.8 96.7,280.6 96.9,272.9 97.1,270.5 97.3,266.5 97.5,268.4 97.7,278.6 97.9,279.0 98.1,283.3 98.3,304.2 98.5,288.2 98.7,291.7 98.9,291.9 99.1,301.2 99.2,296.9 99.4,297.6 99.6,289.4 99.8,296.6 100.0,300.1 100.2,290.2 100.4,305.2 100.6,304.8 100.8,315.3 101.0,292.6 101.2,297.5 101.4,298.5 101.5,300.9 101.7,305.4 101.9,305.4 102.1,309.2 102.3,309.2 102.5,307.8 102.7,298.2 102.9,302.9 103.1,309.8 103.3,313.8 103.5,314.6 103.7,299.5 103.9,305.4 104.0,310.9 104.2,314.1 104.4,321.3 104.6,313.0 104.8,306.9 105.0,316.0 105.2,315.3 105.4,315.9 105.6,313.7 105.8,325.9 106.0,316.8 106.2,321.3 106.3,305.8 106.5,321.0 106.7,311.9 106.9,305.5 107.1,318.4 107.3,320.6 107.5,315.3 107.7,316.8 107.9,323.8 108.1,313.9 108.3,303.4 108.5,319.3 108.7,319.3 108.8,325.0 109.0,315.8 109.2,326.8 109.4,326.0 109.6,309.7 109.8,325.0 110.0,311.4 110.2,308.5 110.4,317.4 110.6,315.6 110.8,306.0 111.0,320.9 111.1,323.7 111.3,329.0 111.5,319.3 111.7,309.4 111.9,313.1 112.1,326.2 112.3,325.7 112.5,323.3 112.7,317.8 112.9,321.2 113.1,318.4 113.3,317.8 113.5,322.0 113.6,320.2 113.8,318.5 114.0,320.6 114.2,316.5 114.4,307.1 114.6,316.0 114.8,319.7 115.0,331.8 115.2,317.5 115.4,333.6 115.6,330.0 115.8,314.3 115.9,315.4 116.1,321.3 116.3,332.1 116.5,322.9 116.7,325.1 116.9,316.0 117.1,304.8 117.3,319.0 117.5,325.9 117.7,328.6 117.9,320.9 118.1,321.8 118.3,328.6 118.4,319.8 118.6,328.6 118.8,313.0 119.0,313.4 119.2,313.2 119.4,324.0 119.6,317.2 119.8,321.7 120.0,323.5 120.2,323.2 120.4,329.9 120.6,332.9 120.7,315.5 120.9,322.3 121.1,319.5 121.3,314.1 121.5,333.1 121.7,326.5 121.9,319.9 122.1,318.4 122.3,323.8 122.5,314.1 122.7,319.8 122.9,329.7 123.1,327.7 123.2,315.8 123.4,318.1 123.6,334.5 123.8,306.5 124.0,317.3 124.2,312.2 124.4,324.1 124.6,323.6 124.8,329.3 125.0,304.0 125.2,322.8 125.4,310.7 125.5,326.2 125.7,320.6 125.9,333.4 126.1,324.5 126.3,315.1 126.5,330.6 126.7,314.6 126.9,319.8 127.1,329.4 127.3,325.7 127.5,325.4 127.7,322.7 127.9,326.1 128.0,328.2 128.2,324.6 128.4,329.6 128.6,331.5 128.8,323.0 129.0,316.6 129.2,333.3 129.4,322.8 129.6,327.4 129.8,329.7 130.0,317.1 130.2,326.6 130.3,312.7 130.5,328.5 130.7,320.5 130.9,324.8 131.1,328.5 131.3,319.3 131.5,324.5 131.7,319.3 131.9,323.8 132.1,332.4 132.3,324.1 132.5,323.1 132.7,316.8 132.8,329.7 133.0,323.7 133.2,335.3 133.4,318.9 133.6,330.9 133.8,335.9 134.0,323.8 134.2,315.8 134.4,334.0 134.6,331.0 134.8,328.6 135.0,331.2 135.1,320.8 135.3,329.0 135.5,328.4 135.7,319.4 135.9,328.7 136.1,320.4 136.3,330.1 136.5,331.8 136.7,336.1 136.9,310.6 137.1,325.6 137.3,321.7 137.5,323.6 137.6,322.3 137.8,323.1 138.0,310.2 138.2,330.6 138.4,334.2 138.6,330.4 138.8,332.7 139.0,318.3 139.2,317.8 139.4,330.1 139.6,333.0 139.8,325.9 139.9,313.8 140.1,340.0 140.3,319.8 140.5,330.9 140.7,316.2 140.9,330.9 141.1,325.4 141.3,333.8 141.5,330.2 141.7,313.9 141.9,317.8 142.1,326.2 142.3,329.4 142.4,336.5 142.6,326.2 142.8,323.6 143.0,324.0 143.2,324.1 143.4,331.2 143.6,323.9 143.8,323.7 144.0,314.5 144.2,310.5 144.4,324.4 144.6,328.7 144.7,323.8 144.9,327.5 145.1,328.4 145.3,323.7 145.5,330.5 145.7,319.0 145.9,323.9 146.1,321.4 146.3,324.4 146.5,328.1 146.7,331.0 146.9,324.7 147.1,326.8 147.2,321.4 147.4,323.0 147.6,332.4 147.8,322.5 148.0,334.0 148.2,327.1 148.4,324.9 148.6,337.2 148.8,322.2 149.0,321.7 149.2,323.8 149.4,325.6 149.5,325.3 149.7,329.4 149.9,324.5 150.1,326.4 150.3,321.9 150.5,330.9 150.7,320.9 150.9,321.5 151.1,323.4 151.3,325.5 151.5,318.6 151.7,333.9 151.9,319.2 152.0,320.6 152.2,320.3 152.4,319.6 152.6,326.8 152.8,324.0 153.0,317.8 153.2,319.2 153.4,320.7 153.6,332.6 153.8,318.3 154.0,314.0 154.2,315.0 154.3,320.4 154.5,332.7 154.7,315.4 154.9,322.9 155.1,338.5 155.3,319.2 155.5,334.2 155.7,330.8 155.9,326.2 156.1,312.9 156.3,324.3 156.5,319.8 156.7,309.6 156.8,310.6 157.0,322.3 157.2,323.2 157.4,330.3 157.6,327.3 157.8,318.6 158.0,318.8 158.2,320.7 158.4,314.6 158.6,326.8 158.8,321.8 159.0,316.4 159.1,317.4 159.3,314.0 159.5,318.6 159.7,323.5 159.9,318.8 160.1,328.2 160.3,332.6 160.5,317.3 160.7,321.6 160.9,319.1 161.1,333.0 161.3,323.7 161.5,325.3 161.6,327.2 161.8,336.7 162.0,323.5 162.2,314.9 162.4,318.5 162.6,325.2 162.8,321.2 163.0,312.7 163.2,337.6 163.4,321.9 163.6,317.3 163.8,316.3 163.9,309.2 164.1,313.1 164.3,318.8 164.5,318.8 164.7,315.5 164.9,324.6 165.1,321.2 165.3,314.6 165.5,307.3 165.7,321.9 165.9,321.1 166.1,319.4 166.3,311.5 166.4,321.0 166.6,310.6 166.8,327.4 167.0,322.0 167.2,322.0 167.4,315.2 167.6,313.4 167.8,331.1 168.0,326.9 168.2,318.3 168.4,325.1 168.6,331.1 168.7,313.4 168.9,317.1 169.1,317.1 169.3,323.8 169.5,313.4 169.7,322.1 169.9,312.9 170.1,328.0 170.3,326.3 170.5,319.0 170.7,325.2 170.9,315.7 171.1,318.5 171.2,326.7 171.4,319.5 171.6,322.7 171.8,313.9 172.0,324.6 172.2,323.3 172.4,311.8 172.6,302.4 172.8,300.7 173.0,310.6 173.2,306.2 173.4,295.6 173.5,305.9 173.7,310.9 173.9,303.1 174.1,300.3 174.3,308.2 174.5,312.9 174.7,311.0 174.9,296.6 175.1,305.4 175.3,300.7 175.5,297.8 175.7,294.6 175.9,300.3 176.0,294.2 176.2,302.7 176.4,298.8 176.6,302.7 176.8,288.0 177.0,295.2 177.2,299.4 177.4,296.4 177.6,295.1 177.8,288.6 178.0,303.2 178.2,299.1 178.3,294.3 178.5,274.7 178.7,284.6 178.9,291.3 179.1,285.3 179.3,276.0 179.5,290.6 179.7,291.0 179.9,280.1 180.1,284.4 180.3,280.1 180.5,290.1 180.7,273.6 180.8,274.6 181.0,281.6 181.2,280.3 181.4,297.4 181.6,279.3 181.8,284.2 182.0,279.4 182.2,277.1 182.4,283.2 182.6,291.5 182.8,277.3 183.0,284.0 183.1,280.6 183.3,281.8 183.5,279.5 183.7,291.8 183.9,268.0 184.1,273.7 184.3,267.4 184.5,261.1 184.7,273.5 184.9,285.5 185.1,279.5 185.3,283.1 185.5,276.8 185.6,273.0 185.8,289.3 186.0,271.2 186.2,283.3 186.4,271.4 186.6,274.1 186.8,275.8 187.0,273.8 187.2,276.8 187.4,277.3 187.6,284.3 187.8,278.7 187.9,276.8 188.1,286.5 188.3,299.3 188.5,304.6 188.7,315.2 188.9,295.6 189.1,313.0 189.3,314.1 189.5,316.7 189.7,315.1 189.9,319.1 190.1,316.6 190.3,325.1 190.4,318.6 190.6,300.3 190.8,316.5 191.0,317.7 191.2,310.2 191.4,311.2 191.6,323.8 191.8,317.5 192.0,309.7 192.2,314.2 192.4,315.2 192.6,305.3 192.7,320.7 192.9,315.5 193.1,319.7 193.3,305.8 193.5,329.5 193.7,320.7 193.9,319.7 194.1,311.5 194.3,311.9 194.5,306.4 194.7,326.9 194.9,310.9 195.1,318.1 195.2,320.7 195.4,312.3 195.6,322.4 195.8,330.4 196.0,318.6 196.2,326.4 196.4,320.5 196.6,313.5 196.8,313.9 197.0,305.1 197.2,317.4 197.4,326.7 197.5,321.3 197.7,322.4 197.9,324.5 198.1,313.0 198.3,320.5 198.5,329.7 198.7,311.2 198.9,316.8 199.1,313.6 199.3,315.3 199.5,311.7 199.7,315.8 199.9,307.5 200.0,313.1 200.2,313.3 200.4,313.2 200.6,326.1 200.8,317.2 201.0,317.8 201.2,314.6 201.4,325.4 201.6,304.8 201.8,315.3 202.0,324.4 202.2,327.9 202.3,318.0 202.5,316.7 202.7,322.0 202.9,315.4 203.1,320.5 203.3,312.2 203.5,322.1 203.7,316.3 203.9,309.3 204.1,295.3 204.3,323.0 204.5,319.3 204.7,321.9 204.8,310.6 205.0,324.0 205.2,319.4 205.4,316.3 205.6,322.8 205.8,322.7 206.0,319.3 206.2,330.6 206.4,326.0 206.6,318.9 206.8,315.0 207.0,317.3 207.1,328.3 207.3,319.3 207.5,310.5 207.7,312.2 207.9,316.6 208.1,322.2 208.3,311.7 208.5,320.1 208.7,324.1 208.9,322.7 209.1,306.0 209.3,314.5 209.5,308.0 209.6,319.4 209.8,309.6 210.0,321.0 210.2,317.1 210.4,298.9 210.6,310.8 210.8,319.5 211.0,316.6 211.2,313.8 211.4,307.7 211.6,319.4 211.8,328.1 211.9,318.0 212.1,316.0 212.3,315.3 212.5,307.0 212.7,313.9 212.9,310.4 213.1,323.7 213.3,310.1 213.5,301.6 213.7,310.7 213.9,314.3 214.1,315.0 214.3,303.7 214.4,322.5 214.6,316.8 214.8,312.9 215.0,310.9 215.2,319.1 215.4,313.9 215.6,318.0 215.8,315.2 216.0,317.0 216.2,323.9 216.4,316.2 216.6,310.0 216.7,322.7 216.9,317.7 217.1,311.5 217.3,323.5 217.5,314.8 217.7,323.4 217.9,308.2 218.1,295.3 218.3,302.1 218.5,317.6 218.7,310.9 218.9,315.2 219.1,315.4 219.2,305.4 219.4,325.2 219.6,308.8 219.8,316.4 220.0,306.3 220.2,314.8 220.4,320.7 220.6,314.1 220.8,311.0 221.0,315.8" fill="none" stroke="#000" stroke-width="1.05" stroke-linejoin="bevel"/>
<text x="92.80" y="245.80" font-size="12.9" font-weight="bold" text-anchor="middle" fill="#000" stroke="#000" stroke-width="0.25">rec m-chemerin</text>
<line x1="89.00" y1="253.00" x2="89.00" y2="260.30" stroke="#000" stroke-width="2.0" stroke-linecap="round"/>
<polygon points="84.55,259.30 93.45,259.30 89.00,267.90" fill="#000"/>
<text x="166.70" y="246.00" font-size="12.8" font-weight="bold" text-anchor="middle" fill="#000" stroke="#000" stroke-width="0.25">ATP</text>
<line x1="164.70" y1="253.00" x2="164.70" y2="260.30" stroke="#000" stroke-width="2.0" stroke-linecap="round"/>
<polygon points="160.25,259.30 169.15,259.30 164.70,267.90" fill="#000"/>
<text x="222.20" y="270.90" font-size="12.2" font-weight="bold" text-anchor="middle" fill="#000" stroke="#000" stroke-width="0.25">WT</text>
<text x="22.30" y="290.90" font-size="11.2" font-weight="bold" text-anchor="middle" fill="#000" transform="rotate(-90 22.30 290.90)" stroke="#000" stroke-width="0.25">Ratio</text>
<text x="152.50" y="384.60" font-size="12.8" font-weight="bold" text-anchor="middle" fill="#000" stroke="#000" stroke-width="0.25">Time (sec)</text>
<line x1="311.00" y1="236.90" x2="311.00" y2="352.80" stroke="#8a8a8a" stroke-width="1.3"/>
<line x1="308.80" y1="237.30" x2="311.00" y2="237.30" stroke="#111" stroke-width="1.1"/>
<text x="308.00" y="240.30" font-size="7.9" font-weight="normal" text-anchor="end" fill="#000" stroke="#000" stroke-width="0.2">1.9</text>
<line x1="308.80" y1="260.28" x2="311.00" y2="260.28" stroke="#111" stroke-width="1.1"/>
<text x="308.00" y="263.28" font-size="7.9" font-weight="normal" text-anchor="end" fill="#000" stroke="#000" stroke-width="0.2">1.8</text>
<line x1="308.80" y1="283.26" x2="311.00" y2="283.26" stroke="#111" stroke-width="1.1"/>
<text x="308.00" y="286.26" font-size="7.9" font-weight="normal" text-anchor="end" fill="#000" stroke="#000" stroke-width="0.2">1.7</text>
<line x1="308.80" y1="306.24" x2="311.00" y2="306.24" stroke="#111" stroke-width="1.1"/>
<text x="308.00" y="309.24" font-size="7.9" font-weight="normal" text-anchor="end" fill="#000" stroke="#000" stroke-width="0.2">1.6</text>
<line x1="308.80" y1="329.22" x2="311.00" y2="329.22" stroke="#111" stroke-width="1.1"/>
<text x="308.00" y="332.22" font-size="7.9" font-weight="normal" text-anchor="end" fill="#000" stroke="#000" stroke-width="0.2">1.5</text>
<line x1="308.80" y1="352.20" x2="311.00" y2="352.20" stroke="#111" stroke-width="1.1"/>
<text x="308.00" y="355.20" font-size="7.9" font-weight="normal" text-anchor="end" fill="#000" stroke="#000" stroke-width="0.2">1.4</text>
<line x1="311.50" y1="352.20" x2="488.20" y2="352.20" stroke="#8a8a8a" stroke-width="1.3"/>
<line x1="328.50" y1="352.20" x2="328.50" y2="354.40" stroke="#111" stroke-width="1.1"/>
<text x="328.70" y="361.70" font-size="8.0" font-weight="normal" text-anchor="middle" fill="#000" stroke="#000" stroke-width="0.15">300</text>
<line x1="360.35" y1="352.20" x2="360.35" y2="354.40" stroke="#111" stroke-width="1.1"/>
<text x="360.55" y="361.70" font-size="8.0" font-weight="normal" text-anchor="middle" fill="#000" stroke="#000" stroke-width="0.15">400</text>
<line x1="392.20" y1="352.20" x2="392.20" y2="354.40" stroke="#111" stroke-width="1.1"/>
<text x="392.40" y="361.70" font-size="8.0" font-weight="normal" text-anchor="middle" fill="#000" stroke="#000" stroke-width="0.15">500</text>
<line x1="424.05" y1="352.20" x2="424.05" y2="354.40" stroke="#111" stroke-width="1.1"/>
<text x="424.25" y="361.70" font-size="8.0" font-weight="normal" text-anchor="middle" fill="#000" stroke="#000" stroke-width="0.15">600</text>
<line x1="455.90" y1="352.20" x2="455.90" y2="354.40" stroke="#111" stroke-width="1.1"/>
<text x="456.10" y="361.70" font-size="8.0" font-weight="normal" text-anchor="middle" fill="#000" stroke="#000" stroke-width="0.15">700</text>
<line x1="487.75" y1="352.20" x2="487.75" y2="354.40" stroke="#111" stroke-width="1.1"/>
<text x="487.95" y="361.70" font-size="8.0" font-weight="normal" text-anchor="middle" fill="#000" stroke="#000" stroke-width="0.15">800</text>
<polyline points="312.6,317.1 312.8,303.8 313.0,309.7 313.2,320.4 313.4,319.1 313.6,320.5 313.7,313.7 313.9,317.6 314.1,312.6 314.3,328.7 314.5,307.6 314.7,317.9 314.9,313.0 315.1,318.1 315.3,319.6 315.5,314.4 315.6,312.2 315.8,318.5 316.0,318.2 316.2,313.0 316.4,322.7 316.6,326.7 316.8,314.8 317.0,321.4 317.2,329.2 317.4,322.3 317.6,320.2 317.7,324.7 317.9,326.5 318.1,317.0 318.3,311.7 318.5,318.7 318.7,321.9 318.9,314.9 319.1,312.8 319.3,319.1 319.5,313.9 319.6,310.8 319.8,318.6 320.0,322.3 320.2,315.1 320.4,315.7 320.6,310.5 320.8,325.2 321.0,321.4 321.2,322.5 321.4,328.0 321.6,316.5 321.7,314.0 321.9,321.9 322.1,308.7 322.3,312.2 322.5,313.4 322.7,314.8 322.9,311.3 323.1,325.5 323.3,311.2 323.5,313.5 323.6,328.2 323.8,315.1 324.0,318.8 324.2,312.4 324.4,320.5 324.6,317.4 324.8,315.1 325.0,322.7 325.2,313.6 325.4,317.9 325.6,314.2 325.7,320.5 325.9,310.5 326.1,313.5 326.3,318.4 326.5,313.3 326.7,309.5 326.9,306.2 327.1,327.0 327.3,311.8 327.5,314.4 327.6,317.9 327.8,323.5 328.0,309.5 328.2,325.1 328.4,313.8 328.6,309.2 328.8,327.2 329.0,319.1 329.2,325.4 329.4,315.8 329.6,302.2 329.7,304.7 329.9,328.3 330.1,320.8 330.3,312.9 330.5,307.5 330.7,314.7 330.9,321.9 331.1,315.4 331.3,317.4 331.5,318.5 331.6,321.8 331.8,314.9 332.0,315.4 332.2,317.8 332.4,318.6 332.6,325.2 332.8,320.3 333.0,309.8 333.2,318.5 333.4,326.2 333.6,309.0 333.7,314.0 333.9,304.2 334.1,316.9 334.3,320.1 334.5,326.3 334.7,309.1 334.9,301.3 335.1,322.4 335.3,321.3 335.5,313.6 335.7,322.4 335.8,318.9 336.0,319.4 336.2,316.1 336.4,310.5 336.6,317.1 336.8,308.1 337.0,319.9 337.2,315.2 337.4,333.2 337.6,326.3 337.7,312.3 337.9,321.7 338.1,313.7 338.3,311.9 338.5,309.1 338.7,312.2 338.9,311.0 339.1,318.0 339.3,321.6 339.5,321.8 339.7,320.9 339.8,324.3 340.0,320.7 340.2,318.0 340.4,315.7 340.6,319.4 340.8,329.2 341.0,317.7 341.2,315.9 341.4,310.5 341.6,311.5 341.7,321.3 341.9,321.8 342.1,304.8 342.3,312.6 342.5,305.9 342.7,304.1 342.9,322.3 343.1,314.9 343.3,314.4 343.5,313.8 343.7,313.9 343.8,316.0 344.0,316.2 344.2,326.6 344.4,318.3 344.6,321.9 344.8,316.5 345.0,320.2 345.2,313.4 345.4,309.1 345.6,315.4 345.7,315.3 345.9,316.7 346.1,320.0 346.3,318.3 346.5,320.3 346.7,314.9 346.9,317.2 347.1,313.7 347.3,325.5 347.5,311.8 347.7,322.0 347.8,321.8 348.0,318.5 348.2,320.8 348.4,315.5 348.6,320.8 348.8,323.9 349.0,322.5 349.2,309.1 349.4,317.0 349.6,324.5 349.7,317.2 349.9,326.9 350.1,306.2 350.3,326.7 350.5,314.3 350.7,313.9 350.9,326.3 351.1,315.4 351.3,311.1 351.5,314.4 351.7,315.7 351.8,311.4 352.0,316.3 352.2,315.2 352.4,318.1 352.6,313.4 352.8,323.1 353.0,309.4 353.2,320.4 353.4,324.0 353.6,315.0 353.7,306.8 353.9,311.3 354.1,320.5 354.3,312.9 354.5,320.1 354.7,318.0 354.9,316.7 355.1,331.6 355.3,316.1 355.5,323.7 355.7,322.5 355.8,326.4 356.0,326.7 356.2,323.1 356.4,312.1 356.6,306.9 356.8,317.5 357.0,310.5 357.2,318.9 357.4,329.1 357.6,316.3 357.7,314.5 357.9,319.9 358.1,315.4 358.3,313.7 358.5,322.6 358.7,326.4 358.9,318.9 359.1,318.6 359.3,319.5 359.5,311.1 359.7,306.6 359.8,319.9 360.0,312.9 360.2,311.4 360.4,312.8 360.6,310.8 360.8,319.7 361.0,312.7 361.2,304.7 361.4,312.3 361.6,321.1 361.7,313.5 361.9,309.4 362.1,315.0 362.3,320.8 362.5,307.7 362.7,325.0 362.9,314.1 363.1,317.4 363.3,324.7 363.5,309.7 363.7,315.1 363.8,324.5 364.0,313.5 364.2,319.9 364.4,329.1 364.6,321.5 364.8,315.6 365.0,313.3 365.2,316.2 365.4,317.0 365.6,314.4 365.7,318.6 365.9,310.0 366.1,316.3 366.3,315.4 366.5,313.9 366.7,323.8 366.9,321.7 367.1,307.8 367.3,315.2 367.5,319.0 367.7,315.2 367.8,320.3 368.0,315.5 368.2,321.4 368.4,315.6 368.6,327.1 368.8,309.0 369.0,320.5 369.2,327.1 369.4,318.7 369.6,319.6 369.7,316.3 369.9,324.4 370.1,314.8 370.3,296.6 370.5,325.2 370.7,315.2 370.9,319.2 371.1,316.1 371.3,328.5 371.5,324.4 371.7,314.4 371.8,317.5 372.0,307.1 372.2,321.6 372.4,316.2 372.6,299.2 372.8,322.0 373.0,322.9 373.2,317.5 373.4,317.6 373.6,312.0 373.8,316.5 373.9,322.0 374.1,316.0 374.3,300.9 374.5,309.4 374.7,333.8 374.9,318.2 375.1,322.7 375.3,313.4 375.5,318.3 375.7,305.3 375.8,311.5 376.0,311.7 376.2,316.1 376.4,317.5 376.6,315.2 376.8,309.2 377.0,314.0 377.2,319.4 377.4,309.4 377.6,315.4 377.8,317.8 377.9,322.2 378.1,320.8 378.3,321.2 378.5,333.8 378.7,311.0 378.9,313.8 379.1,318.6 379.3,310.8 379.5,314.6 379.7,315.0 379.8,332.6 380.0,318.7 380.2,314.0 380.4,307.3 380.6,305.9 380.8,303.1 381.0,324.5 381.2,330.9 381.4,313.7 381.6,317.1 381.8,311.3 381.9,318.1 382.1,315.9 382.3,326.6 382.5,314.5 382.7,320.0 382.9,315.1 383.1,314.4 383.3,318.0 383.5,315.3 383.7,317.4 383.8,312.6 384.0,314.2 384.2,321.3 384.4,320.9 384.6,306.5 384.8,317.9 385.0,311.1 385.2,314.8 385.4,320.8 385.6,322.8 385.8,316.5 385.9,315.7 386.1,313.5 386.3,325.1 386.5,321.0 386.7,317.9 386.9,307.3 387.1,331.9 387.3,314.5 387.5,320.6 387.7,314.6 387.8,320.3 388.0,315.0 388.2,307.6 388.4,313.8 388.6,314.6 388.8,315.0 389.0,321.9 389.2,313.9 389.4,318.6 389.6,322.3 389.8,317.5 389.9,318.7 390.1,312.6 390.3,317.5 390.5,320.6 390.7,308.2 390.9,311.1 391.1,309.4 391.3,313.5 391.5,318.0 391.7,319.9 391.8,319.0 392.0,311.4 392.2,316.6 392.4,326.5 392.6,317.5 392.8,326.1 393.0,316.2 393.2,324.7 393.4,325.1 393.6,316.5 393.8,317.8 393.9,327.6 394.1,312.6 394.3,303.8 394.5,326.5 394.7,306.0 394.9,321.5 395.1,320.9 395.3,318.4 395.5,326.2 395.7,309.2 395.8,314.2 396.0,321.9 396.2,319.0 396.4,326.7 396.6,319.4 396.8,311.5 397.0,327.9 397.2,320.0 397.4,316.4 397.6,306.9 397.8,308.9 397.9,320.1 398.1,321.9 398.3,314.5 398.5,319.5 398.7,319.2 398.9,310.6 399.1,306.8 399.3,315.6 399.5,318.5 399.7,313.7 399.8,329.0 400.0,317.4 400.2,323.9 400.4,302.4 400.6,312.8 400.8,316.4 401.0,318.5 401.2,332.9 401.4,312.8 401.6,301.1 401.8,321.8 401.9,313.0 402.1,312.8 402.3,326.9 402.5,311.5 402.7,308.9 402.9,315.9 403.1,317.7 403.3,312.4 403.5,326.8 403.7,316.7 403.8,310.7 404.0,326.5 404.2,311.1 404.4,319.9 404.6,330.2 404.8,317.9 405.0,323.3 405.2,315.3 405.4,324.5 405.6,310.8 405.8,322.8 405.9,315.1 406.1,321.0 406.3,319.3 406.5,309.9 406.7,315.1 406.9,320.2 407.1,326.6 407.3,310.1 407.5,312.7 407.7,319.3 407.8,315.8 408.0,323.7 408.2,323.6 408.4,322.4 408.6,315.1 408.8,315.4 409.0,321.9 409.2,312.7 409.4,312.4 409.6,316.2 409.8,310.8 409.9,319.1 410.1,318.0 410.3,314.3 410.5,317.5 410.7,312.3 410.9,325.0 411.1,308.4 411.3,322.1 411.5,318.3 411.7,325.8 411.9,313.5 412.0,309.4 412.2,310.6 412.4,312.1 412.6,326.9 412.8,322.1 413.0,320.1 413.2,324.2 413.4,310.3 413.6,316.1 413.8,317.4 413.9,314.2 414.1,323.2 414.3,322.9 414.5,322.7 414.7,314.2 414.9,315.2 415.1,313.7 415.3,310.6 415.5,327.4 415.7,320.7 415.9,316.4 416.0,325.6 416.2,320.6 416.4,311.0 416.6,310.4 416.8,310.6 417.0,317.0 417.2,318.6 417.4,310.6 417.6,319.6 417.8,315.2 417.9,309.0 418.1,319.6 418.3,321.1 418.5,317.3 418.7,313.6 418.9,314.3 419.1,316.3 419.3,311.7 419.5,327.2 419.7,322.6 419.9,316.3 420.0,323.0 420.2,325.6 420.4,324.8 420.6,323.0 420.8,318.4 421.0,323.6 421.2,315.8 421.4,306.7 421.6,318.2 421.8,309.4 421.9,315.5 422.1,324.2 422.3,318.9 422.5,323.4 422.7,312.5 422.9,324.4 423.1,309.1 423.3,311.5 423.5,329.8 423.7,312.4 423.9,307.6 424.0,322.2 424.2,311.2 424.4,328.4 424.6,315.7 424.8,327.6 425.0,314.3 425.2,328.4 425.4,333.6 425.6,314.8 425.8,303.1 425.9,321.0 426.1,312.1 426.3,316.6 426.5,319.3 426.7,313.5 426.9,307.1 427.1,326.5 427.3,313.8 427.5,315.1 427.7,326.1 427.9,307.3 428.0,305.2 428.2,323.2 428.4,306.5 428.6,316.9 428.8,318.3 429.0,307.9 429.2,315.9 429.4,314.1 429.6,307.9 429.8,309.3 429.9,311.7 430.1,326.0 430.3,327.0 430.5,310.3 430.7,323.0 430.9,316.3 431.1,323.9 431.3,318.4 431.5,325.2 431.7,307.2 431.9,323.6 432.0,318.0 432.2,318.4 432.4,309.8 432.6,326.1 432.8,317.5 433.0,318.6 433.2,314.0 433.4,314.3 433.6,320.1 433.8,315.8 433.9,319.6 434.1,314.4 434.3,317.9 434.5,321.3 434.7,317.4 434.9,315.0 435.1,303.2 435.3,320.3 435.5,315.4 435.7,308.2 435.9,330.2 436.0,328.1 436.2,324.6 436.4,318.0 436.6,296.6 436.8,314.8 437.0,309.8 437.2,318.6 437.4,332.6 437.6,331.6 437.8,311.0 437.9,316.1 438.1,325.3 438.3,310.3 438.5,328.7 438.7,310.2 438.9,308.3 439.1,322.0 439.3,324.1 439.5,312.0 439.7,324.1 439.9,311.9 440.0,324.7 440.2,309.3 440.4,316.7 440.6,320.0 440.8,322.8 441.0,315.8 441.2,329.0 441.4,319.0 441.6,319.7 441.8,313.1 441.9,325.0 442.1,306.6 442.3,319.2 442.5,323.9 442.7,306.9 442.9,303.9 443.1,314.0 443.3,317.1 443.5,310.1 443.7,313.2 443.9,309.5 444.0,296.6 444.2,302.7 444.4,303.1 444.6,300.8 444.8,302.2 445.0,295.5 445.2,294.2 445.4,302.0 445.6,296.4 445.8,275.6 445.9,291.3 446.1,295.8 446.3,273.6 446.5,290.6 446.7,298.8 446.9,280.3 447.1,292.9 447.3,288.0 447.5,277.4 447.7,279.5 447.9,283.4 448.0,279.4 448.2,277.7 448.4,259.3 448.6,276.0 448.8,274.5 449.0,249.9 449.2,273.9 449.4,254.6 449.6,256.1 449.8,269.5 450.0,281.1 450.1,263.5 450.3,261.2 450.5,258.3 450.7,266.4 450.9,255.6 451.1,253.7 451.3,276.3 451.5,252.9 451.7,264.4 451.9,271.5 452.0,269.5 452.2,249.3 452.4,257.8 452.6,283.8 452.8,266.7 453.0,269.0 453.2,269.6 453.4,272.9 453.6,282.0 453.8,260.6 454.0,279.4 454.1,272.6 454.3,275.0 454.5,276.4 454.7,262.9 454.9,266.5 455.1,276.6 455.3,279.8 455.5,276.2 455.7,263.7 455.9,272.4 456.0,272.2 456.2,278.3 456.4,278.5 456.6,275.0 456.8,294.4 457.0,258.0 457.2,288.3 457.4,285.7 457.6,268.8 457.8,280.0 458.0,282.6 458.1,289.1 458.3,298.8 458.5,283.1 458.7,274.3 458.9,294.4 459.1,274.0 459.3,297.8 459.5,292.4 459.7,285.3 459.9,289.1 460.0,285.4 460.2,295.8 460.4,297.3 460.6,303.1 460.8,299.6 461.0,299.4 461.2,302.1 461.4,292.0 461.6,298.5 461.8,306.9 462.0,279.3 462.1,300.1 462.3,302.9 462.5,287.6 462.7,288.3 462.9,302.8 463.1,306.8 463.3,302.3 463.5,289.2 463.7,298.4 463.9,301.6 464.0,297.0 464.2,289.5 464.4,305.8 464.6,299.8 464.8,306.2 465.0,284.3 465.2,286.7 465.4,292.2 465.6,299.2 465.8,292.0 466.0,311.8 466.1,297.2 466.3,307.4 466.5,307.5 466.7,304.1 466.9,302.4 467.1,297.2 467.3,297.0 467.5,300.2 467.7,308.3 467.9,298.7 468.0,304.2 468.2,296.7 468.4,311.4 468.6,321.6 468.8,308.6 469.0,292.8 469.2,303.8 469.4,308.5 469.6,302.3 469.8,303.3 470.0,306.0 470.1,312.6 470.3,309.5 470.5,309.3 470.7,315.1 470.9,318.7 471.1,311.4 471.3,306.9 471.5,309.4 471.7,311.0 471.9,311.5 472.0,299.2 472.2,314.1 472.4,309.9 472.6,304.8 472.8,317.2 473.0,316.4 473.2,312.2 473.4,308.8 473.6,317.9 473.8,317.5 474.0,319.1 474.1,327.1 474.3,312.6 474.5,321.0 474.7,330.0 474.9,320.2 475.1,329.9 475.3,325.4 475.5,318.9 475.7,324.7 475.9,312.2 476.0,327.9 476.2,317.1 476.4,315.2 476.6,309.5 476.8,312.8 477.0,317.0 477.2,317.8 477.4,318.6 477.6,311.1 477.8,322.2 478.0,314.9 478.1,318.8 478.3,316.6 478.5,319.7 478.7,304.8 478.9,322.1 479.1,316.4 479.3,316.3 479.5,314.2 479.7,315.1 479.9,315.3 480.0,311.8 480.2,327.2 480.4,317.8 480.6,325.5 480.8,316.4 481.0,325.1 481.2,323.7 481.4,318.1 481.6,309.1 481.8,314.1 482.0,315.9 482.1,309.0 482.3,323.5 482.5,330.6 482.7,320.3 482.9,319.3 483.1,309.9 483.3,304.3 483.5,325.8 483.7,302.2 483.9,307.8 484.0,312.3 484.2,315.2 484.4,302.4 484.6,316.9 484.8,320.4 485.0,316.5 485.2,325.9 485.4,314.4 485.6,318.0 485.8,315.3 486.0,315.1 486.1,323.9 486.3,309.1 486.5,323.5 486.7,311.7 486.9,327.1 487.1,314.9" fill="none" stroke="#000" stroke-width="1.05" stroke-linejoin="bevel"/>
<text x="362.00" y="245.80" font-size="12.9" font-weight="bold" text-anchor="middle" fill="#000" stroke="#000" stroke-width="0.25">rec m-chemerin</text>
<line x1="348.70" y1="253.00" x2="348.70" y2="260.30" stroke="#000" stroke-width="2.0" stroke-linecap="round"/>
<polygon points="344.25,259.30 353.15,259.30 348.70,267.90" fill="#000"/>
<text x="423.40" y="246.00" font-size="12.8" font-weight="bold" text-anchor="middle" fill="#000" stroke="#000" stroke-width="0.25">ATP</text>
<line x1="421.00" y1="253.00" x2="421.00" y2="260.40" stroke="#000" stroke-width="2.0" stroke-linecap="round"/>
<polygon points="416.55,259.40 425.45,259.40 421.00,268.00" fill="#000"/>
<text x="487.90" y="270.90" font-size="12.2" font-weight="bold" text-anchor="middle" fill="#000" stroke="#000" stroke-width="0.25">KO</text>
<text x="286.20" y="290.50" font-size="11.2" font-weight="bold" text-anchor="middle" fill="#000" transform="rotate(-90 286.20 290.50)" stroke="#000" stroke-width="0.25">Ratio</text>
<text x="412.40" y="384.60" font-size="12.8" font-weight="bold" text-anchor="middle" fill="#000" stroke="#000" stroke-width="0.25">Time (sec)</text>
<line x1="44.20" y1="417.10" x2="44.20" y2="533.80" stroke="#8a8a8a" stroke-width="1.3"/>
<line x1="41.20" y1="533.20" x2="44.20" y2="533.20" stroke="#111" stroke-width="1.1"/>
<text x="38.90" y="536.60" font-size="9.2" font-weight="bold" text-anchor="end" fill="#000" stroke="#000" stroke-width="0.25">0</text>
<line x1="41.20" y1="504.28" x2="44.20" y2="504.28" stroke="#111" stroke-width="1.1"/>
<text x="38.90" y="507.68" font-size="9.2" font-weight="bold" text-anchor="end" fill="#000" stroke="#000" stroke-width="0.25">5</text>
<line x1="41.20" y1="475.35" x2="44.20" y2="475.35" stroke="#111" stroke-width="1.1"/>
<text x="38.90" y="478.75" font-size="9.2" font-weight="bold" text-anchor="end" fill="#000" stroke="#000" stroke-width="0.25">10</text>
<line x1="41.20" y1="446.43" x2="44.20" y2="446.43" stroke="#111" stroke-width="1.1"/>
<text x="38.90" y="449.82" font-size="9.2" font-weight="bold" text-anchor="end" fill="#000" stroke="#000" stroke-width="0.25">15</text>
<line x1="41.20" y1="417.50" x2="44.20" y2="417.50" stroke="#111" stroke-width="1.1"/>
<text x="38.90" y="420.90" font-size="9.2" font-weight="bold" text-anchor="end" fill="#000" stroke="#000" stroke-width="0.25">20</text>
<line x1="44.20" y1="533.20" x2="222.00" y2="533.20" stroke="#8a8a8a" stroke-width="1.3"/>
<line x1="59.30" y1="533.20" x2="59.30" y2="536.40" stroke="#111" stroke-width="1.1"/>
<line x1="53.55" y1="524.81" x2="53.55" y2="526.84" stroke="#222" stroke-width="1"/>
<line x1="51.55" y1="524.81" x2="55.55" y2="524.81" stroke="#222" stroke-width="1.3"/>
<rect x="49.30" y="526.84" width="8.50" height="6.36" fill="#000"/>
<line x1="64.80" y1="524.23" x2="64.80" y2="526.84" stroke="#222" stroke-width="1"/>
<line x1="62.80" y1="524.23" x2="66.80" y2="524.23" stroke="#222" stroke-width="1.3"/>
<rect x="61.00" y="527.34" width="7.60" height="5.86" fill="#fff" stroke="#222" stroke-width="1"/>
<text x="59.50" y="544.60" font-size="8.6" font-weight="bold" text-anchor="middle" fill="#000" stroke="#000" stroke-width="0.25">0</text>
<line x1="89.40" y1="533.20" x2="89.40" y2="536.40" stroke="#111" stroke-width="1.1"/>
<line x1="83.65" y1="507.46" x2="83.65" y2="512.37" stroke="#222" stroke-width="1"/>
<line x1="81.65" y1="507.46" x2="85.65" y2="507.46" stroke="#222" stroke-width="1.3"/>
<rect x="79.40" y="512.37" width="8.50" height="20.83" fill="#000"/>
<line x1="94.90" y1="524.23" x2="94.90" y2="526.26" stroke="#222" stroke-width="1"/>
<line x1="92.90" y1="524.23" x2="96.90" y2="524.23" stroke="#222" stroke-width="1.3"/>
<rect x="91.10" y="526.76" width="7.60" height="6.44" fill="#fff" stroke="#222" stroke-width="1"/>
<text x="89.60" y="544.60" font-size="8.6" font-weight="bold" text-anchor="middle" fill="#000" stroke="#000" stroke-width="0.25">0.1</text>
<line x1="119.50" y1="533.20" x2="119.50" y2="536.40" stroke="#111" stroke-width="1.1"/>
<line x1="113.75" y1="508.90" x2="113.75" y2="514.11" stroke="#222" stroke-width="1"/>
<line x1="111.75" y1="508.90" x2="115.75" y2="508.90" stroke="#222" stroke-width="1.3"/>
<rect x="109.50" y="514.11" width="8.50" height="19.09" fill="#000"/>
<line x1="125.00" y1="526.26" x2="125.00" y2="527.99" stroke="#222" stroke-width="1"/>
<line x1="123.00" y1="526.26" x2="127.00" y2="526.26" stroke="#222" stroke-width="1.3"/>
<rect x="121.20" y="528.49" width="7.60" height="4.71" fill="#fff" stroke="#222" stroke-width="1"/>
<text x="119.70" y="544.60" font-size="8.6" font-weight="bold" text-anchor="middle" fill="#000" stroke="#000" stroke-width="0.25">0.3</text>
<line x1="149.60" y1="533.20" x2="149.60" y2="536.40" stroke="#111" stroke-width="1.1"/>
<line x1="143.85" y1="485.76" x2="143.85" y2="493.86" stroke="#222" stroke-width="1"/>
<line x1="141.85" y1="485.76" x2="145.85" y2="485.76" stroke="#222" stroke-width="1.3"/>
<rect x="139.60" y="493.86" width="8.50" height="39.34" fill="#000"/>
<line x1="155.10" y1="525.39" x2="155.10" y2="526.26" stroke="#222" stroke-width="1"/>
<line x1="153.10" y1="525.39" x2="157.10" y2="525.39" stroke="#222" stroke-width="1.3"/>
<rect x="151.30" y="526.76" width="7.60" height="6.44" fill="#fff" stroke="#222" stroke-width="1"/>
<text x="149.80" y="544.60" font-size="8.6" font-weight="bold" text-anchor="middle" fill="#000" stroke="#000" stroke-width="0.25">1</text>
<line x1="179.60" y1="533.20" x2="179.60" y2="536.40" stroke="#111" stroke-width="1.1"/>
<line x1="173.85" y1="431.38" x2="173.85" y2="468.41" stroke="#222" stroke-width="1"/>
<line x1="171.85" y1="431.38" x2="175.85" y2="431.38" stroke="#222" stroke-width="1.3"/>
<rect x="169.60" y="468.41" width="8.50" height="64.79" fill="#000"/>
<line x1="185.10" y1="529.44" x2="185.10" y2="529.73" stroke="#222" stroke-width="1"/>
<line x1="183.10" y1="529.44" x2="187.10" y2="529.44" stroke="#222" stroke-width="1.3"/>
<rect x="181.30" y="530.23" width="7.60" height="2.97" fill="#fff" stroke="#222" stroke-width="1"/>
<text x="179.80" y="544.60" font-size="8.6" font-weight="bold" text-anchor="middle" fill="#000" stroke="#000" stroke-width="0.25">3</text>
<line x1="209.80" y1="533.20" x2="209.80" y2="536.40" stroke="#111" stroke-width="1.1"/>
<line x1="204.05" y1="480.56" x2="204.05" y2="499.65" stroke="#222" stroke-width="1"/>
<line x1="202.05" y1="480.56" x2="206.05" y2="480.56" stroke="#222" stroke-width="1.3"/>
<rect x="199.80" y="499.65" width="8.50" height="33.55" fill="#000"/>
<line x1="215.30" y1="529.44" x2="215.30" y2="529.73" stroke="#222" stroke-width="1"/>
<line x1="213.30" y1="529.44" x2="217.30" y2="529.44" stroke="#222" stroke-width="1.3"/>
<rect x="211.50" y="530.23" width="7.60" height="2.97" fill="#fff" stroke="#222" stroke-width="1"/>
<text x="210.00" y="544.60" font-size="8.6" font-weight="bold" text-anchor="middle" fill="#000" stroke="#000" stroke-width="0.25">10</text>
<rect x="209.80" y="421.80" width="18.20" height="6.70" fill="#000"/>
<rect x="210.30" y="435.90" width="17.20" height="5.70" fill="#fff" stroke="#333" stroke-width="1"/>
<text x="230.60" y="428.60" font-size="8.8" font-weight="normal" text-anchor="start" fill="#000">WT</text>
<text x="230.60" y="442.20" font-size="8.8" font-weight="normal" text-anchor="start" fill="#000">KO</text>
<text x="143.40" y="565.30" font-size="12.75" font-weight="bold" text-anchor="middle" fill="#000" stroke="#000" stroke-width="0.25">Rec m-chemerin (nM)</text>
<text x="8.20" y="474.00" font-size="11.4" font-weight="bold" text-anchor="middle" fill="#000" transform="rotate(-90 8.20 474.00)" stroke="#000" stroke-width="0.25">Dendritic cells</text>
<text x="21.20" y="473.00" font-size="11.4" font-weight="bold" text-anchor="middle" fill="#000" transform="rotate(-90 21.20 473.00)" stroke="#000" stroke-width="0.25">migration ration</text>
<line x1="313.20" y1="419.20" x2="313.20" y2="536.10" stroke="#8a8a8a" stroke-width="1.3"/>
<line x1="310.20" y1="535.50" x2="313.20" y2="535.50" stroke="#111" stroke-width="1.1"/>
<text x="307.60" y="539.30" font-size="8.1" font-weight="bold" text-anchor="end" fill="#000" stroke="#000" stroke-width="0.25">0.0</text>
<line x1="310.20" y1="477.50" x2="313.20" y2="477.50" stroke="#111" stroke-width="1.1"/>
<text x="307.60" y="481.30" font-size="8.1" font-weight="bold" text-anchor="end" fill="#000" stroke="#000" stroke-width="0.25">2.5</text>
<line x1="310.20" y1="419.50" x2="313.20" y2="419.50" stroke="#111" stroke-width="1.1"/>
<text x="307.60" y="423.30" font-size="8.1" font-weight="bold" text-anchor="end" fill="#000" stroke="#000" stroke-width="0.25">5.0</text>
<line x1="313.20" y1="535.50" x2="494.60" y2="535.50" stroke="#8a8a8a" stroke-width="1.3"/>
<line x1="322.75" y1="509.28" x2="322.75" y2="512.30" stroke="#222" stroke-width="1"/>
<line x1="320.75" y1="509.28" x2="324.75" y2="509.28" stroke="#222" stroke-width="1.3"/>
<rect x="318.50" y="512.30" width="8.50" height="23.20" fill="#000"/>
<line x1="334.00" y1="510.44" x2="334.00" y2="512.30" stroke="#222" stroke-width="1"/>
<line x1="332.00" y1="510.44" x2="336.00" y2="510.44" stroke="#222" stroke-width="1.3"/>
<rect x="330.20" y="512.80" width="7.60" height="22.70" fill="#fff" stroke="#222" stroke-width="1"/>
<text x="328.70" y="547.60" font-size="8.6" font-weight="bold" text-anchor="middle" fill="#000" stroke="#000" stroke-width="0.25">0</text>
<line x1="352.95" y1="494.44" x2="352.95" y2="499.08" stroke="#222" stroke-width="1"/>
<line x1="350.95" y1="494.44" x2="354.95" y2="494.44" stroke="#222" stroke-width="1.3"/>
<rect x="348.70" y="499.08" width="8.50" height="36.42" fill="#000"/>
<line x1="364.20" y1="506.96" x2="364.20" y2="507.66" stroke="#222" stroke-width="1"/>
<line x1="362.20" y1="506.96" x2="366.20" y2="506.96" stroke="#222" stroke-width="1.3"/>
<rect x="360.40" y="508.16" width="7.60" height="27.34" fill="#fff" stroke="#222" stroke-width="1"/>
<text x="358.90" y="547.60" font-size="8.6" font-weight="bold" text-anchor="middle" fill="#000" stroke="#000" stroke-width="0.25">0.1</text>
<line x1="383.25" y1="472.63" x2="383.25" y2="481.21" stroke="#222" stroke-width="1"/>
<line x1="381.25" y1="472.63" x2="385.25" y2="472.63" stroke="#222" stroke-width="1.3"/>
<rect x="379.00" y="481.21" width="8.50" height="54.29" fill="#000"/>
<line x1="394.50" y1="503.25" x2="394.50" y2="506.04" stroke="#222" stroke-width="1"/>
<line x1="392.50" y1="503.25" x2="396.50" y2="503.25" stroke="#222" stroke-width="1.3"/>
<rect x="390.70" y="506.54" width="7.60" height="28.96" fill="#fff" stroke="#222" stroke-width="1"/>
<text x="389.20" y="547.60" font-size="8.6" font-weight="bold" text-anchor="middle" fill="#000" stroke="#000" stroke-width="0.25">0.3</text>
<line x1="413.55" y1="446.18" x2="413.55" y2="455.46" stroke="#222" stroke-width="1"/>
<line x1="411.55" y1="446.18" x2="415.55" y2="446.18" stroke="#222" stroke-width="1.3"/>
<rect x="409.30" y="455.46" width="8.50" height="80.04" fill="#000"/>
<line x1="424.80" y1="513.92" x2="424.80" y2="514.62" stroke="#222" stroke-width="1"/>
<line x1="422.80" y1="513.92" x2="426.80" y2="513.92" stroke="#222" stroke-width="1.3"/>
<rect x="421.00" y="515.12" width="7.60" height="20.38" fill="#fff" stroke="#222" stroke-width="1"/>
<text x="419.50" y="547.60" font-size="8.6" font-weight="bold" text-anchor="middle" fill="#000" stroke="#000" stroke-width="0.25">1</text>
<line x1="443.75" y1="457.55" x2="443.75" y2="463.58" stroke="#222" stroke-width="1"/>
<line x1="441.75" y1="457.55" x2="445.75" y2="457.55" stroke="#222" stroke-width="1.3"/>
<rect x="439.50" y="463.58" width="8.50" height="71.92" fill="#000"/>
<line x1="455.00" y1="509.98" x2="455.00" y2="512.30" stroke="#222" stroke-width="1"/>
<line x1="453.00" y1="509.98" x2="457.00" y2="509.98" stroke="#222" stroke-width="1.3"/>
<rect x="451.20" y="512.80" width="7.60" height="22.70" fill="#fff" stroke="#222" stroke-width="1"/>
<text x="449.70" y="547.60" font-size="8.6" font-weight="bold" text-anchor="middle" fill="#000" stroke="#000" stroke-width="0.25">3</text>
<line x1="474.05" y1="511.14" x2="474.05" y2="512.30" stroke="#222" stroke-width="1"/>
<line x1="472.05" y1="511.14" x2="476.05" y2="511.14" stroke="#222" stroke-width="1.3"/>
<rect x="469.80" y="512.30" width="8.50" height="23.20" fill="#000"/>
<line x1="485.30" y1="513.92" x2="485.30" y2="514.62" stroke="#222" stroke-width="1"/>
<line x1="483.30" y1="513.92" x2="487.30" y2="513.92" stroke="#222" stroke-width="1.3"/>
<rect x="481.50" y="515.12" width="7.60" height="20.38" fill="#fff" stroke="#222" stroke-width="1"/>
<text x="480.00" y="547.60" font-size="8.6" font-weight="bold" text-anchor="middle" fill="#000" stroke="#000" stroke-width="0.25">10</text>
<rect x="484.90" y="424.40" width="18.80" height="6.90" fill="#000"/>
<rect x="485.40" y="438.60" width="17.80" height="5.90" fill="#fff" stroke="#333" stroke-width="1"/>
<text x="505.20" y="431.40" font-size="9.3" font-weight="normal" text-anchor="start" fill="#000">WT</text>
<text x="505.20" y="445.10" font-size="9.3" font-weight="normal" text-anchor="start" fill="#000">KO</text>
<text x="412.80" y="565.30" font-size="12.75" font-weight="bold" text-anchor="middle" fill="#000" stroke="#000" stroke-width="0.25">Rec m-chemerin (nM)</text>
<text x="271.40" y="473.80" font-size="11.4" font-weight="bold" text-anchor="middle" fill="#000" transform="rotate(-90 271.40 473.80)" stroke="#000" stroke-width="0.25">macrophages</text>
<text x="285.50" y="472.00" font-size="11.4" font-weight="bold" text-anchor="middle" fill="#000" transform="rotate(-90 285.50 472.00)" stroke="#000" stroke-width="0.25">migration ration</text>
</svg>
</body></html>
